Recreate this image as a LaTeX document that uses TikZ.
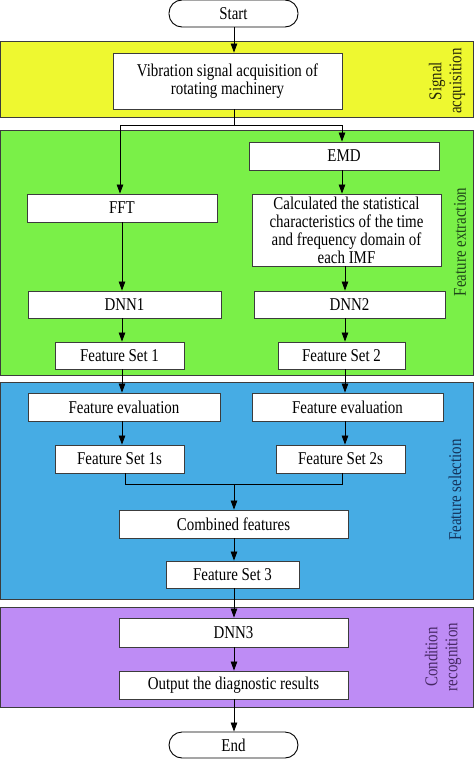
\documentclass[tikz,border=0pt]{standalone}
\usepackage{fontspec}
\setmainfont{Liberation Serif}[FakeStretch=0.83]
\usetikzlibrary{arrows.meta}
\definecolor{bandY}{RGB}{238,248,48}
\definecolor{bandG}{RGB}{122,240,72}
\definecolor{bandB}{RGB}{70,172,228}
\definecolor{bandP}{RGB}{190,140,245}
\definecolor{labY}{RGB}{40,40,10}
\definecolor{labG}{RGB}{30,70,25}
\definecolor{labB}{RGB}{20,50,90}
\definecolor{labP}{RGB}{70,40,100}
\definecolor{edge}{RGB}{60,60,60}
\tikzset{
  band/.style={draw=edge, line width=1pt},
  box/.style={draw=edge, fill=white, line width=0.9pt, inner sep=0pt, align=center,
    font=\fontsize{18}{18}\selectfont},
  term/.style={box, rounded corners=13pt, draw=black},
  bandlabel/.style={rotate=90, align=center, inner sep=0pt,
    font=\fontsize{18}{20}\selectfont},
  arr/.style={draw=black, line width=0.8pt, -{Triangle[length=9pt,width=6.5pt]}},
  ln/.style={draw=black, line width=0.8pt},
}
\begin{document}
\begin{tikzpicture}[x=1pt,y=-1pt]
\useasboundingbox (0,0) rectangle (474,760);
% bands
\path[band, fill=bandY] (0.5,42) rectangle (473.5,117);
\path[band, fill=bandG] (0.5,130) rectangle (473.5,375);
\path[band, fill=bandB] (0.5,382) rectangle (473.5,599);
\path[band, fill=bandP] (0.5,607) rectangle (473.5,707);
\node[bandlabel, text=labY] (labA) at (447,81) {Signal\\acquisition};
\node[bandlabel, text=labG] (labE) at (460,242) {Feature extraction};
\node[bandlabel, text=labB] (labS) at (455,490) {Feature selection};
\node[bandlabel, text=labP] (labC) at (443,657) {Condition\\recognition};
% column coordinates
\coordinate (colL) at (122,0);
\coordinate (colR) at (345,0);
\coordinate (mid) at (234,0);
% nodes
\node[term, minimum width=129, minimum height=27] (start) at (233.5,13.5) {Start};
\node[box, minimum width=229, minimum height=56] (vib) at (227.5,81) {Vibration signal acquisition of\\rotating machinery};
\node[box, minimum width=190, minimum height=28] (emd) at (344,156) {EMD};
\node[box, minimum width=190, minimum height=28] (fft) at (122,208) {FFT};
\node[box, minimum width=189, minimum height=72] (calc) at (346.5,230) {Calculated the statistical\\characteristics of the time\\and frequency domain of\\each IMF};
\node[box, minimum width=193, minimum height=27] (dnn1) at (124.5,304.5) {DNN1};
\node[box, minimum width=191, minimum height=27] (dnn2) at (349.5,304.5) {DNN2};
\node[box, minimum width=129, minimum height=27] (fs1) at (119.5,355.5) {Feature Set 1};
\node[box, minimum width=127, minimum height=27] (fs2) at (341.5,355.5) {Feature Set 2};
\node[box, minimum width=192, minimum height=28] (fe1) at (124,407) {Feature evaluation};
\node[box, minimum width=191, minimum height=28] (fe2) at (347.5,407) {Feature evaluation};
\node[box, minimum width=129, minimum height=28] (fs1s) at (119.5,459) {Feature Set 1s};
\node[box, minimum width=129, minimum height=28] (fs2s) at (340.5,459) {Feature Set 2s};
\node[box, minimum width=229, minimum height=28] (comb) at (233.5,524) {Combined features};
\node[box, minimum width=133, minimum height=27] (fs3) at (232.5,574.5) {Feature Set 3};
\node[box, minimum width=229, minimum height=29] (dnn3) at (233.5,632.5) {DNN3};
\node[box, minimum width=229, minimum height=28] (outp) at (233.5,685) {Output the diagnostic results};
\node[term, minimum width=129, minimum height=26] (endn) at (233.5,745) {End};
% split and merge points
\coordinate (split) at (234,125);
\coordinate (splitL) at (120,125);
\coordinate (splitR) at (342,125);
\coordinate (merge) at (234,484);
\coordinate (mergeL) at (125,484);
\coordinate (mergeR) at (342,484);
% connectors
\draw[arr] (start.south -| mid) -- (vib.north -| mid);
\draw[ln] (vib.south -| mid) -- (split);
\draw[ln] (splitL) -- (splitR);
\draw[arr] (splitL) -- (fft.north -| splitL);
\draw[arr] (splitR) -- (emd.north -| splitR);
\draw[arr] (emd.south -| splitR) -- (calc.north -| splitR);
\draw[arr] (calc.south -| colR) -- (dnn2.north -| colR);
\draw[arr] (fft.south -| colL) -- (dnn1.north -| colL);
\draw[arr] (dnn1.south -| colL) -- (fs1.north -| colL);
\draw[arr] (dnn2.south -| colR) -- (fs2.north -| colR);
\draw[arr] (fs1.south -| colL) -- (fe1.north -| colL);
\draw[arr] (fs2.south -| colR) -- (fe2.north -| colR);
\draw[arr] (fe1.south -| colL) -- (fs1s.north -| colL);
\draw[arr] (fe2.south -| colR) -- (fs2s.north -| colR);
\draw[ln] (fs1s.south -| mergeL) -- (mergeL) -- (mergeR) -- (fs2s.south -| mergeR);
\draw[arr] (merge) -- (comb.north -| merge);
\draw[arr] (comb.south -| mid) -- (fs3.north -| mid);
\draw[arr] (fs3.south -| mid) -- (dnn3.north -| mid);
\draw[arr] (dnn3.south -| mid) -- (outp.north -| mid);
\draw[arr] (outp.south -| mid) -- (endn.north -| mid);
\end{tikzpicture}
\end{document}
